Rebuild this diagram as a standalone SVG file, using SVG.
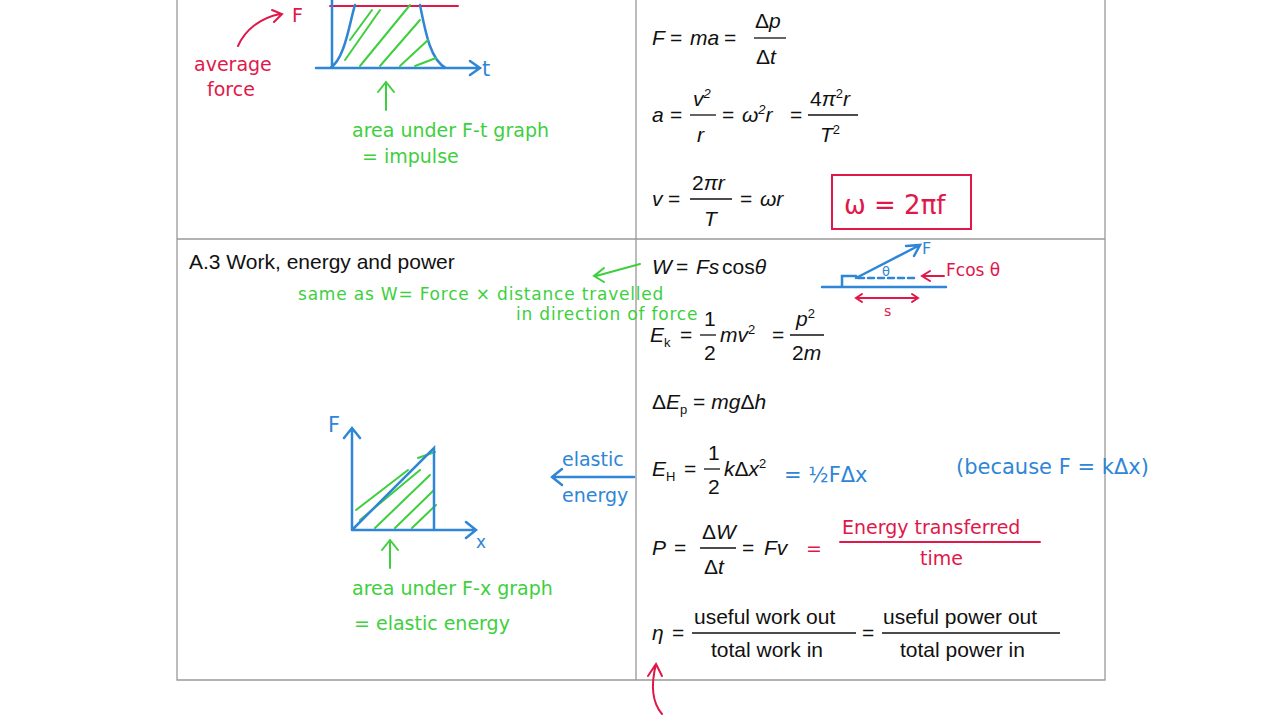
<svg xmlns="http://www.w3.org/2000/svg" width="1280" height="720" viewBox="0 0 1280 720">
<style>
.eq{font-family:"Liberation Sans",Arial,sans-serif;font-size:21px;fill:#111}
.i{font-style:italic}
.sm{font-size:13px}
.hg{font-family:"DejaVu Sans",sans-serif;font-size:19px;fill:#3ecf3e}
.hr{font-family:"DejaVu Sans",sans-serif;font-size:19px;fill:#e0184a}
.hb{font-family:"DejaVu Sans",sans-serif;font-size:21px;fill:#2f86d6}
.ln{stroke:#999;stroke-width:1.3;fill:none}
.fr{stroke:#111;stroke-width:1.3}
.bl{stroke:#2f86d6;stroke-width:2.5;fill:none;stroke-linecap:round}
.gr{stroke:#3ecf3e;stroke-width:2;fill:none;stroke-linecap:round}
.rd{stroke:#e0184a;stroke-width:2;fill:none;stroke-linecap:round}
</style>
<rect width="1280" height="720" fill="#fff"/>
<g id="table">
<path class="ln" d="M177 0V680H1105V0M636 0V680M177 239H1105"/>
</g>
<g id="ft-graph">
<path class="rd" d="M330 6H458"/>
<path class="bl" d="M332 0V68M316 68H480M470 61L480 68L470 75M330 68C345 60 350 20 355 5M420 5C425 30 430 60 446 68"/>
<path class="gr" d="M345 60L380 10M360 66L410 5M380 66L420 20M400 66L428 40M415 66L436 58M350 40L372 10"/>
<text class="hb" x="482" y="76">t</text>
<text class="hr" x="292" y="22">F</text>
<path class="rd" d="M238 46C245 30 260 18 280 14M272 10L282 14L274 22"/>
<text class="hr" x="194" y="71">average</text>
<text class="hr" x="207" y="96">force</text>
<path class="gr" d="M386 110V82M378 92L386 82L394 92"/>
<text class="hg" x="352" y="137">area under F-t graph</text>
<text class="hg" x="362" y="163">= impulse</text>
</g>
<g id="eq-top">
<text class="eq i" x="652" y="45">F</text><text class="eq" x="670" y="45">=</text><text class="eq i" x="690" y="45">ma</text><text class="eq" x="724" y="45">=</text>
<text class="eq" x="755" y="28">Δ<tspan class="i">p</tspan></text><path class="fr" d="M754 38H786"/><text class="eq" x="756" y="64">Δ<tspan class="i">t</tspan></text>
<text class="eq i" x="652" y="122">a</text><text class="eq" x="670" y="122">=</text>
<text class="eq i" x="693" y="106">v<tspan class="sm" dy="-8">2</tspan></text><path class="fr" d="M690 115H716"/><text class="eq i" x="697" y="142">r</text>
<text class="eq" x="722" y="122">=</text><text class="eq i" x="742" y="122">ω<tspan class="sm" dy="-8">2</tspan><tspan dy="8">r</tspan></text><text class="eq" x="790" y="122">=</text>
<text class="eq" x="810" y="106">4<tspan class="i">π</tspan><tspan class="sm" dy="-8">2</tspan><tspan class="i" dy="8">r</tspan></text><path class="fr" d="M808 115H858"/><text class="eq i" x="820" y="142">T<tspan class="sm" font-style="normal" dy="-8">2</tspan></text>
<text class="eq i" x="652" y="206">v</text><text class="eq" x="668" y="206">=</text>
<text class="eq" x="692" y="190">2<tspan class="i">πr</tspan></text><path class="fr" d="M690 199H732"/><text class="eq i" x="704" y="226">T</text>
<text class="eq" x="740" y="206">=</text><text class="eq i" x="760" y="206">ωr</text>
<rect x="832" y="175" width="139" height="54" fill="none" stroke="#e0184a" stroke-width="2"/>
<text class="hr" x="844" y="214" style="font-size:26px">ω = 2πf</text>
</g>
<g id="section-title">
<text class="eq" x="189" y="269" style="font-size:21px">A.3 Work, energy and power</text>
<text class="hg" x="298" y="300" style="font-size:17px;letter-spacing:0.8px">same as W= Force × distance travelled</text>
<text class="hg" x="516" y="320" style="font-size:17px;letter-spacing:0.8px">in direction of force</text>
<path class="gr" d="M640 264L596 276M604 268L594 276L604 282"/>
</g>
<g id="fx-graph">
<path class="gr" d="M360 520L420 470M375 528L430 475M395 528L434 490M412 528L436 505M356 510L408 470M418 458L435 452"/>
<path class="bl" d="M352 530V428M344 438L352 428L360 438M352 530H476M466 522L476 530L466 538M352 530L434 448V530"/>
<text class="hb" x="328" y="432">F</text>
<text class="hb" x="476" y="548" style="font-size:17px">x</text>
<path class="gr" d="M390 568V540M382 550L390 540L398 550"/>
<text class="hg" x="352" y="595">area under F-x graph</text>
<text class="hg" x="354" y="630">= elastic energy</text>
<path class="bl" d="M634 477H552M562 469L552 477L562 485" stroke-width="2"/>
<text class="hb" x="562" y="466" style="font-size:19px">elastic</text>
<text class="hb" x="562" y="502" style="font-size:19px">energy</text>
</g>
<g id="eq-bottom">
<text class="eq i" x="652" y="274">W</text><text class="eq" x="676" y="274">=</text><text class="eq i" x="696" y="274">Fs</text><text class="eq" x="722" y="274">cos<tspan class="i">θ</tspan></text>
<path class="bl" d="M822 287H946M842 287V276H856" stroke-width="2"/>
<path class="bl" d="M856 278L918 246M906 246L920 245L914 256" stroke-width="2"/>
<text class="hb" x="922" y="254" style="font-size:16px">F</text>
<path class="bl" d="M858 278H918" stroke-dasharray="6 4" stroke-width="2"/>
<text class="hb" x="882" y="276" style="font-size:13px">θ</text>
<path class="rd" d="M944 276H922M930 271L922 276L930 281M856 298H918M862 294L856 298L862 302M912 294L918 298L912 302"/>
<text class="hr" x="946" y="276" style="font-size:17px">Fcos θ</text>
<text class="hr" x="884" y="316" style="font-size:14px">s</text>
<text class="eq i" x="650" y="342">E<tspan class="sm" font-style="normal" dy="5">k</tspan></text><text class="eq" x="680" y="342">=</text>
<text class="eq" x="704" y="326">1</text><path class="fr" d="M700 335H716"/><text class="eq" x="704" y="360">2</text>
<text class="eq i" x="720" y="342">mv<tspan class="sm" font-style="normal" dy="-8">2</tspan></text><text class="eq" x="772" y="342">=</text>
<text class="eq i" x="796" y="326">p<tspan class="sm" font-style="normal" dy="-8">2</tspan></text><path class="fr" d="M790 335H824"/><text class="eq" x="792" y="360">2<tspan class="i">m</tspan></text>
<text class="eq" x="652" y="409">Δ<tspan class="i">E</tspan><tspan class="sm" dy="5">p</tspan><tspan dy="-5"> = </tspan><tspan class="i">mg</tspan>Δ<tspan class="i">h</tspan></text>
<text class="eq i" x="652" y="476">E<tspan class="sm" font-style="normal" dy="5">H</tspan></text><text class="eq" x="684" y="476">=</text>
<text class="eq" x="708" y="460">1</text><path class="fr" d="M704 469H720"/><text class="eq" x="708" y="494">2</text>
<text class="eq" x="724" y="476"><tspan class="i">k</tspan>Δ<tspan class="i">x</tspan><tspan class="sm" dy="-8">2</tspan></text>
<text class="hb" x="784" y="482">=  ½FΔx</text>
<text class="hb" x="956" y="474">(because F = kΔx)</text>
<text class="eq i" x="652" y="555">P</text><text class="eq" x="674" y="555">=</text>
<text class="eq" x="702" y="539">Δ<tspan class="i">W</tspan></text><path class="fr" d="M700 548H736"/><text class="eq" x="704" y="574">Δ<tspan class="i">t</tspan></text>
<text class="eq" x="742" y="555">=</text><text class="eq i" x="764" y="555">Fv</text>
<text class="hr" x="806" y="555">=</text>
<text class="hr" x="842" y="534" style="font-size:19px">Energy transferred</text>
<path class="rd" d="M840 542H1040"/>
<text class="hr" x="920" y="565" style="font-size:19px">time</text>
<text class="eq i" x="652" y="640">η</text><text class="eq" x="672" y="640">=</text>
<text class="eq" x="694" y="624">useful work out</text><path class="fr" d="M692 633H856"/><text class="eq" x="711" y="657">total work in</text>
<text class="eq" x="862" y="640">=</text>
<text class="eq" x="883" y="624">useful power out</text><path class="fr" d="M882 633H1060"/><text class="eq" x="900" y="657">total power in</text>
<path class="rd" d="M656 664C652 680 650 700 662 714M648 676L656 664L662 676"/>
</g>
</svg>
